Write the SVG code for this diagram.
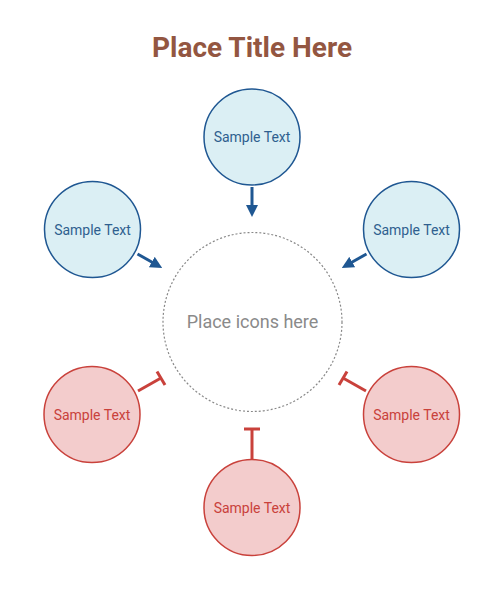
<svg xmlns="http://www.w3.org/2000/svg" width="504" height="590" viewBox="0 0 504 590">
<style>
.blue circle{fill:#dbeff4;stroke:#1f5792;stroke-width:1.5}
.red circle{fill:#f3cccc;stroke:#c9413b;stroke-width:1.5}
.blue text{fill:#2f5f8f}
.red text{fill:#c9413b}
text{font-family:Roboto,"Liberation Sans",sans-serif;text-anchor:middle}
.lbl{font-size:14px}
.pos{stroke:#1f5792;stroke-width:3;fill:none}
.neg{stroke:#c9413b;stroke-width:3;fill:none}
</style>
<defs>
<marker id="ah" markerWidth="4" markerHeight="4" refX="2" refY="2" orient="auto" markerUnits="strokeWidth" viewBox="0 0 4 4">
<path d="M0,0 L4,2 L0,4 Z" fill="#1f5792"/>
</marker>
</defs>
<rect width="504" height="590" fill="#fff"/>
<text x="252" y="57" font-size="28" font-weight="bold" fill="#935641">Place Title Here</text>
<g id="center">
<circle cx="252.5" cy="322" r="89.5" fill="none" stroke="#888" stroke-width="1.2" stroke-dasharray="2,2"/>
<text x="252.5" y="328" font-size="18" fill="#8a8a8a">Place icons here</text>
</g>
<g id="n-top" class="blue"><circle cx="252" cy="137" r="48"/><text class="lbl" x="252" y="142">Sample Text</text></g>
<g id="n-left" class="blue"><circle cx="92.5" cy="229.5" r="48"/><text class="lbl" x="92.5" y="234.5">Sample Text</text></g>
<g id="n-right" class="blue"><circle cx="411.5" cy="229.5" r="48"/><text class="lbl" x="411.5" y="234.5">Sample Text</text></g>
<g id="n-bl" class="red"><circle cx="92" cy="414.5" r="48"/><text class="lbl" x="92" y="419.5">Sample Text</text></g>
<g id="n-br" class="red"><circle cx="411.5" cy="414.5" r="48"/><text class="lbl" x="411.5" y="419.5">Sample Text</text></g>
<g id="n-bottom" class="red"><circle cx="252" cy="507.5" r="48"/><text class="lbl" x="252" y="512.5">Sample Text</text></g>
<g id="connectors">
<line class="pos" x1="252" y1="187" x2="252" y2="211" marker-end="url(#ah)"/>
<line class="pos" x1="137.5" y1="254" x2="157" y2="265" marker-end="url(#ah)"/>
<line class="pos" x1="366.5" y1="254" x2="347" y2="265" marker-end="url(#ah)"/>
<line class="neg" x1="138" y1="391" x2="161" y2="378"/>
<line class="neg" x1="157" y1="371.5" x2="165" y2="385"/>
<line class="neg" x1="366" y1="391" x2="343" y2="378"/>
<line class="neg" x1="347" y1="371.5" x2="339" y2="385"/>
<line class="neg" x1="252" y1="459" x2="252" y2="429"/>
<line class="neg" x1="244" y1="429" x2="260" y2="429"/>
</g>
</svg>
